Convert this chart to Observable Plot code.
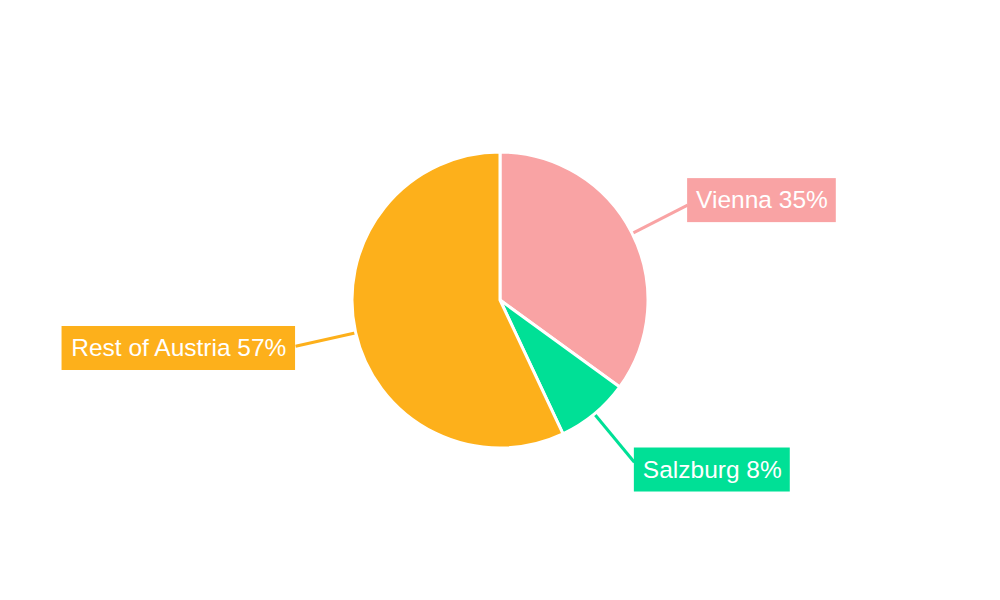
<!DOCTYPE html>
<html>
<head>
<meta charset="utf-8">
<script src="https://cdn.jsdelivr.net/npm/d3@7"></script>
<script src="https://cdn.jsdelivr.net/npm/@observablehq/plot@0.6"></script>
<style>
  html, body { margin: 0; padding: 0; background: #fff; }
</style>
</head>
<body>
<div id="chart"></div>
<script>
const categories = ["Vienna", "Salzburg", "Rest of Austria"];
const shares = [35, 8, 57];
const colors = ["#f9a3a4", "#00e096", "#fdb01b"];

const W = 1000, H = 600;
const R = 148, R_LINE = 210, R_LABEL_Y = 220;
const FONT_SIZE = 24.5;
const FONT_FAMILY = "'Liberation Sans', Arial, sans-serif";
const PAD = 8.5, BOX_H = 44;

const data = categories.map((name, i) => ({ name, value: shares[i], color: colors[i] }));
const arcs = d3.pie().sort(null).value(d => d.value)(data);

const ctx = document.createElement("canvas").getContext("2d");
ctx.font = `${FONT_SIZE}px ${FONT_FAMILY}`;

const labels = arcs.map(a => {
  const mid = (a.startAngle + a.endAngle) / 2;
  const s = Math.sin(mid), c = Math.cos(mid);
  const label = `${a.data.name} ${a.data.value}%`;
  const w = ctx.measureText(label).width + 2 * PAD;
  const ex = R_LINE * s, ey = -R_LINE * c;
  const cy = -R_LABEL_Y * c;
  const right = s >= 0;
  const bx1 = right ? ex : ex - w;
  const bx2 = right ? ex + w : ex;
  return {
    label, color: a.data.color,
    sx: R * s, sy: -R * c, ex, ey,
    bx1, bx2, by1: cy - BOX_H / 2, by2: cy + BOX_H / 2,
    tx: (bx1 + bx2) / 2, ty: cy
  };
});

const pieMark = (index, scales) => {
  const cx = scales.x(0), cy = scales.y(0);
  const r = scales.x(R) - scales.x(0);
  const arc = d3.arc().innerRadius(0).outerRadius(r);
  const g = d3.create("svg:g").attr("transform", `translate(${cx},${cy})`);
  g.selectAll("path").data(arcs).join("path")
    .attr("d", arc)
    .attr("fill", d => d.data.color)
    .attr("stroke", "#fff")
    .attr("stroke-width", 3)
    .attr("stroke-linejoin", "round");
  return g.node();
};

const chart = Plot.plot({
  width: W,
  height: H,
  margin: 0,
  x: { domain: [-W / 2, W / 2], range: [0, W], axis: null },
  y: { domain: [-H / 2, H / 2], range: [0, H], axis: null },
  marks: [
    Plot.link(labels, { x1: "sx", y1: "sy", x2: "ex", y2: "ey", stroke: "color", strokeWidth: 3 }),
    pieMark,
    Plot.rect(labels, { x1: "bx1", x2: "bx2", y1: "by1", y2: "by2", fill: "color", inset: 0 }),
    Plot.text(labels, {
      x: "tx", y: "ty", text: "label", fill: "white",
      fontSize: FONT_SIZE, fontFamily: FONT_FAMILY,
      textAnchor: "middle", lineAnchor: "middle"
    })
  ]
});
document.getElementById("chart").appendChild(chart);
</script>
</body>
</html>
